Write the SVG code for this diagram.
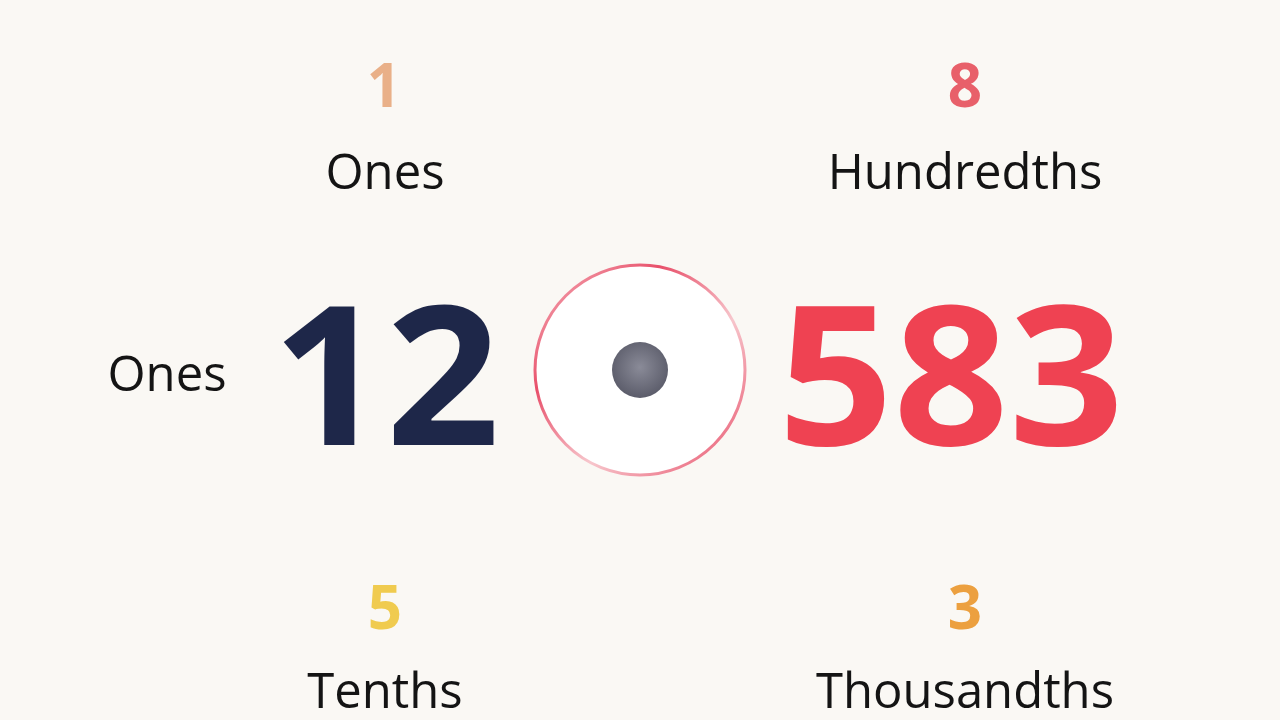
<svg xmlns="http://www.w3.org/2000/svg" width="1280" height="720" viewBox="0 0 1280 720">
<defs>
<style>
.lbl{font-family:"Open Sans","Noto Sans",sans-serif;font-size:49px;fill:#141414;text-anchor:middle}
.dig{font-family:"Open Sans","Noto Sans",sans-serif;font-weight:700;font-size:60px;text-anchor:middle}
.big{font-family:"Open Sans","Noto Sans",sans-serif;font-weight:700;font-size:194px;text-anchor:middle}
</style>
<linearGradient id="ring" x1="0" y1="0" x2="1" y2="1">
<stop offset="0" stop-color="#f6b8c0"/>
<stop offset="0.3" stop-color="#e8506a"/>
<stop offset="0.6" stop-color="#f7c6cc"/>
<stop offset="1" stop-color="#e8506a"/>
</linearGradient>
<radialGradient id="dot" cx="0.5" cy="0.45" r="0.6">
<stop offset="0" stop-color="#8a8b98"/>
<stop offset="1" stop-color="#575866"/>
</radialGradient>
</defs>
<rect width="1280" height="720" fill="#faf8f4"/>
<g id="connectors"/>
<g id="ones-top">
<text class="dig" x="384" y="107" fill="#e9b088">1</text>
<text class="lbl" x="385" y="189">Ones</text>
</g>
<g id="hundredths">
<text class="dig" x="965" y="107" fill="#e8606a">8</text>
<text class="lbl" x="965" y="189">Hundredths</text>
</g>
<g id="ones-left">
<text class="lbl" x="167" y="391">Ones</text>
</g>
<g id="whole">
<text class="big" x="386" y="445" fill="#1e2749" textLength="228" lengthAdjust="spacingAndGlyphs">12</text>
</g>
<g id="point">
<circle cx="640" cy="370" r="105" fill="#ffffff" stroke="url(#ring)" stroke-width="3"/>
<circle cx="640" cy="370" r="28" fill="url(#dot)"/>
</g>
<g id="fraction">
<text class="big" x="951" y="445" fill="#ef4252" textLength="346" lengthAdjust="spacingAndGlyphs">583</text>
</g>
<g id="tenths">
<text class="dig" x="385" y="629" fill="#f0cb4f">5</text>
<text class="lbl" x="385" y="708">Tenths</text>
</g>
<g id="thousandths">
<text class="dig" x="965" y="629" fill="#eca03f">3</text>
<text class="lbl" x="965" y="708">Thousandths</text>
</g>
</svg>
